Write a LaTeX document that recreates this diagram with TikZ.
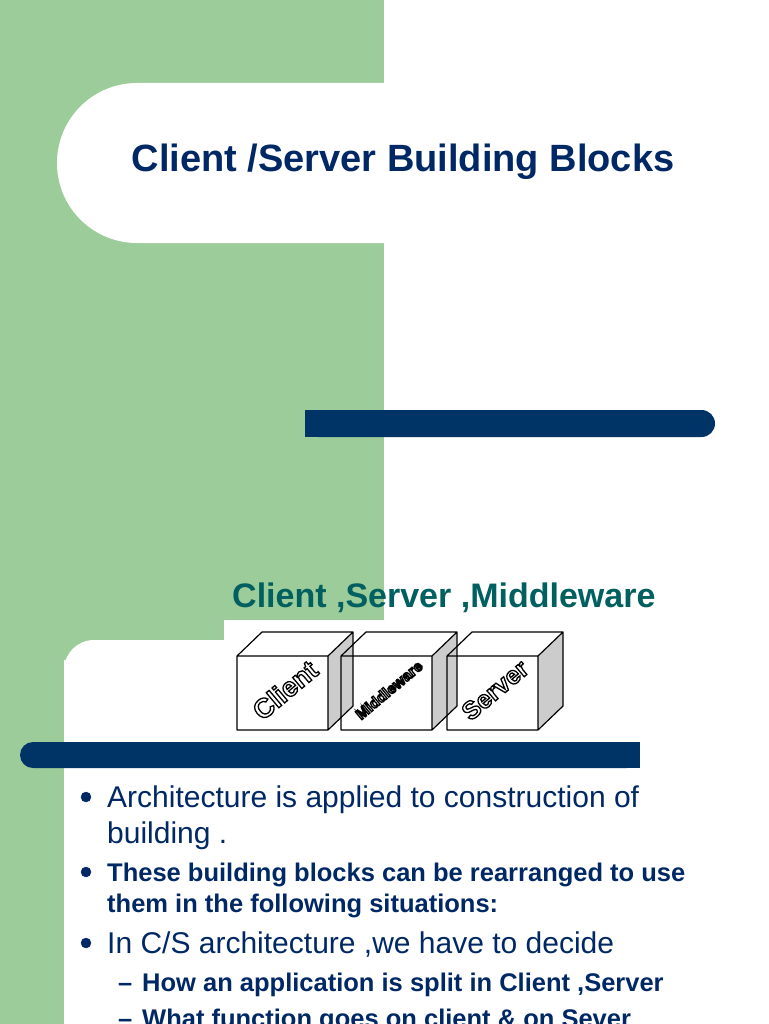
\documentclass[tikz,border=0pt]{standalone}
\usepackage{fontspec}
\setmainfont{Liberation Sans}
\newcommand\myoutl[1]{\textcolor{white}{\special{pdf:literal direct 2 Tr 1.3 w 0 G}#1\special{pdf:literal direct 0 Tr}}}
\definecolor{grn}{RGB}{156,204,153}
\definecolor{navy}{RGB}{0,51,102}
\definecolor{txt}{RGB}{0,40,100}
\definecolor{teal}{RGB}{0,96,96}
\begin{document}
\begin{tikzpicture}[x=1pt,y=-1pt,
  bar/.style={fill=navy},
  body/.style={anchor=base west,text=txt,inner sep=0pt,font=\fontsize{30}{36}\selectfont},
  bbody/.style={body,font=\fontsize{25.5}{30}\selectfont\bfseries},
  sub/.style={body,font=\fontsize{25.5}{30}\selectfont\bfseries},
  dot/.style={fill=txt,draw=txt,circle,inner sep=0pt,minimum size=10pt}]
\useasboundingbox (0,0) rectangle (768,1024);
\fill[white] (0,0) rectangle (768,1024);
% green
\fill[grn] (0,0) rectangle (384,620);
\fill[grn] (0,620) rectangle (224,660);
\fill[grn] (0,0) rectangle (64,1024);
% top slide
\fill[white,rounded corners=80pt] (57,83) rectangle (900,243);
\node[font=\fontsize{38}{44}\selectfont\bfseries,text=txt] (t1) at (403,162) {Client /Server Building Blocks};
\fill[bar,rounded corners=13.5pt] (305,410) rectangle (715,437);
\fill[bar] (305,410) rectangle (330,437);
% bottom slide
\fill[white,rounded corners=30pt] (64,640) rectangle (900,1100);
\node[font=\fontsize{34}{40}\selectfont\bfseries,text=teal,anchor=base west,inner sep=0pt] (t2) at (232,607) {Client ,Server ,Middleware};
\fill[white] (224,620) rectangle (583,745);
\foreach \x/\t/\f in {237/Client/27,341/Middleware/15,447/Server/25}{
  \fill[gray!40] (\x+91,656) -- (\x+116,632) -- (\x+116,706) -- (\x+91,730) -- cycle;
  \draw[black,line width=1.2pt,line join=round] (\x,656) rectangle (\x+91,730)
    (\x,656) -- (\x+25,632) -- (\x+116,632) -- (\x+91,656)
    (\x+116,632) -- (\x+116,706) -- (\x+91,730);
  \node[rotate=40,font=\fontsize{\f}{\f}\selectfont\bfseries] at (\x+48,690) {\myoutl{\t}};
}
\fill[bar,rounded corners=13pt] (20,742) rectangle (640,768);
\fill[bar] (600,742) rectangle (640,768);
% bullets
\node[dot] (d1) at (86,797) {};
\node[body] (l1) at (107,807) {Architecture is applied to construction of};
\node[body] (l2) at (107,843) {building .};
\node[dot] (d2) at (86,872) {};
\node[bbody] (l3) at (107,881) {These building blocks can be rearranged to use};
\node[bbody] (l4) at (107,912) {them in the following situations:};
\node[dot] (d3) at (86,943) {};
\node[body] (l5) at (107,953) {In C/S architecture ,we have to decide};
\node[sub] (s1d) at (118,991) {--};
\node[sub] (s1) at (142,991) {How an application is split in Client ,Server};
\node[sub] (s2d) at (118,1027) {--};
\node[sub] (s2) at (142,1027) {What function goes on client \& on Sever};
\end{tikzpicture}
\end{document}
